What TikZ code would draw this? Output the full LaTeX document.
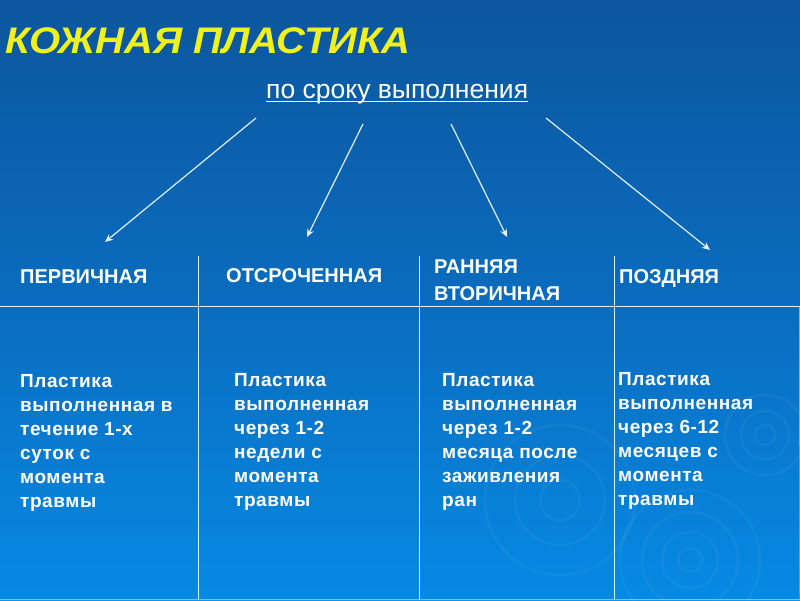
\documentclass[tikz,border=0pt]{standalone}
\usepackage{fontspec}
\setmainfont{Liberation Sans}
\newfontfamily\titlefont[FakeStretch=1.08]{Liberation Sans}
\newfontfamily\bodyfont[LetterSpace=3]{Liberation Sans}
\usetikzlibrary{arrows.meta}
\definecolor{bgtop}{RGB}{12,86,158}
\definecolor{bgmid}{RGB}{10,108,190}
\definecolor{bgbot}{RGB}{6,138,228}
\definecolor{ttl}{RGB}{240,240,30}
\definecolor{rulec}{RGB}{225,240,250}
\begin{document}
\begin{tikzpicture}[x=1pt,y=-1pt,
  hdr/.style={anchor=base west, text=white, font=\fontsize{20}{22}\selectfont\bfseries, inner sep=0pt},
  body/.style={anchor=north west, text=white, font=\bodyfont\fontsize{19}{24}\selectfont\bfseries, inner sep=0pt, align=left},
  arr/.style={draw=rulec, line width=1.2pt, -{Stealth[length=8pt,width=7pt]}},
  rule/.style={draw=rulec, line width=0.8pt},
  ripple/.style={draw=white, opacity=0.04, line width=3pt}]
% background
\shade[top color=bgtop, bottom color=bgbot, middle color=bgmid] (0,0) rectangle (800,600);
\useasboundingbox (0,0) rectangle (800,600);
% faint ripples
\foreach \r in {12,28,48,70}{\draw[ripple] (690,560) circle (\r);}
\foreach \r in {20,45,75}{\draw[ripple] (560,500) circle (\r);}
\foreach \r in {10,24,40}{\draw[ripple] (765,435) circle (\r);}
% title
\node[anchor=base west, inner sep=0pt, text=ttl, font=\titlefont\fontsize{37}{40}\selectfont\bfseries\itshape] (title) at (5,53) {КОЖНАЯ ПЛАСТИКА};
\node[anchor=base west, inner sep=0pt, text=white, font=\fontsize{26.5}{28}\selectfont] (sub) at (266,98) {по сроку выполнения};
\draw[draw=white, line width=1pt] ([yshift=-3pt]sub.base west) -- ([yshift=-3pt]sub.base east);
% arrows
\coordinate (s1) at (256,118); \coordinate (e1) at (105,242);
\coordinate (s2) at (363,124); \coordinate (e2) at (307,237);
\coordinate (s3) at (451,124); \coordinate (e3) at (507,237);
\coordinate (s4) at (546,118); \coordinate (e4) at (710,250);
\draw[arr] (s1) -- (e1);
\draw[arr] (s2) -- (e2);
\draw[arr] (s3) -- (e3);
\draw[arr] (s4) -- (e4);
% table rules
\coordinate (h0) at (0,306); \coordinate (h1) at (800,306);
\draw[rule] (h0) -- (h1);
\coordinate (v1t) at (198,256); \coordinate (v1b) at (198,600);
\coordinate (v2t) at (419,256); \coordinate (v2b) at (419,600);
\coordinate (v3t) at (614,256); \coordinate (v3b) at (614,600);
\draw[rule] (v1t) -- (v1b);
\draw[rule] (v2t) -- (v2b);
\draw[rule] (v3t) -- (v3b);
\coordinate (b0) at (0,599.5); \coordinate (b1) at (800,599.5); \coordinate (r0) at (799.5,306);
\draw[draw=cyan!40!white, line width=1pt, opacity=0.7] (b0) -- (b1) -- (r0);
% headers
\node[hdr] (c1) at (20,283) {ПЕРВИЧНАЯ};
\node[hdr] (c2) at (226,282) {ОТСРОЧЕННАЯ};
\node[hdr] (c3a) at (434,273) {РАННЯЯ};
\node[hdr] (c3b) at (434,300) {ВТОРИЧНАЯ};
\node[hdr] (c4) at (619,283) {ПОЗДНЯЯ};
% bodies
\node[body] (t1) at (20,374.5) {Пластика\\выполненная в\\течение 1-х\\суток с\\момента\\травмы};
\node[body] (t2) at (234,373.5) {Пластика\\выполненная\\через 1-2\\недели с\\момента\\травмы};
\node[body] (t3) at (442,373.5) {Пластика\\выполненная\\через 1-2\\месяца после\\заживления\\ран};
\node[body] (t4) at (618,372.5) {Пластика\\выполненная\\через 6-12\\месяцев с\\момента\\травмы};
\end{tikzpicture}
\end{document}
